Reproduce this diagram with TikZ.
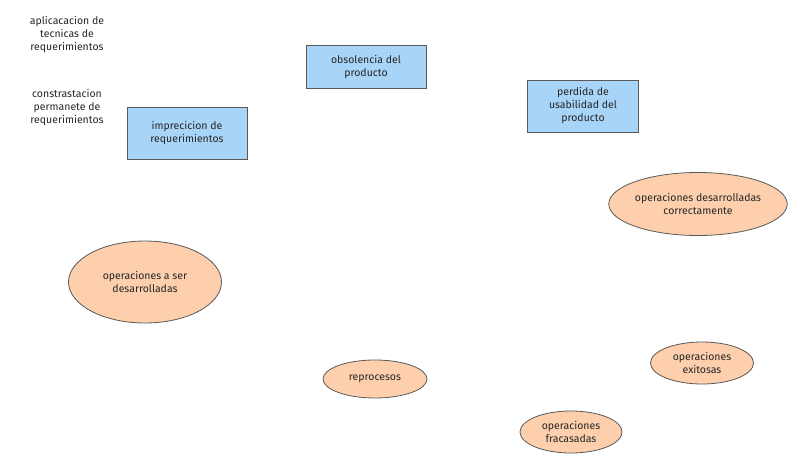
\documentclass[tikz,border=0pt]{standalone}
\usepackage{fontspec}
\setmainfont{Fira Sans}
\usetikzlibrary{shapes.geometric}
\begin{document}
\begin{tikzpicture}[x=1pt,y=-1pt,
  every node/.style={font=\fontsize{10.5}{13}\selectfont, align=center, text=black!85},
  rbox/.style={draw=black!65, fill=blue!30!cyan!25!white, line width=0.8pt, inner sep=0pt},
  ell/.style={ellipse, draw=black!65, fill={rgb,255:red,253;green,207;blue,172}, line width=0.8pt, inner sep=0pt}]
\useasboundingbox (0,0) rectangle (800,463);
\node (t1) at (67,35) {aplicacacion de\\tecnicas de\\requerimientos};
\node (t2) at (67,108) {constrastacion\\permanete de\\requerimientos};
\node[rbox, minimum width=120, minimum height=52, fill={rgb,255:red,168;green,212;blue,248}] (b1) at (187,133) {imprecicion de\\requerimientos};
\node[rbox, minimum width=120, minimum height=43, fill={rgb,255:red,168;green,212;blue,248}] (b2) at (366,67) {obsolencia del\\producto};
\node[rbox, minimum width=111, minimum height=52, fill={rgb,255:red,168;green,212;blue,248}] (b3) at (583,106) {perdida de\\usabilidad del\\producto};
\node[ell, minimum width=153, minimum height=63] (e1) at (698,204) {operaciones desarrolladas\\correctamente};
\node[ell, minimum width=153, minimum height=82] (e2) at (145,282) {operaciones a ser\\desarrolladas};
\node[ell, minimum width=104, minimum height=38] (e3) at (375,379) {reprocesos};
\node[ell, minimum width=103, minimum height=42] (e4) at (702,363) {operaciones\\exitosas};
\node[ell, minimum width=102, minimum height=42] (e5) at (571,432) {operaciones\\fracasadas};
\end{tikzpicture}
\end{document}
